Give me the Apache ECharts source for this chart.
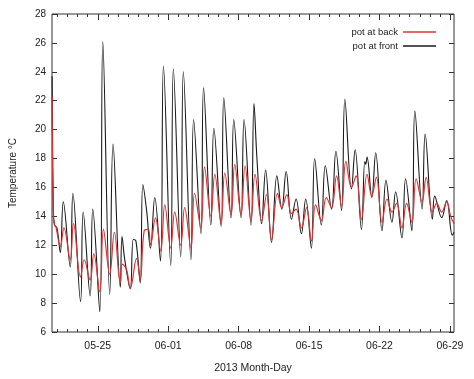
<!DOCTYPE html>
<html>
<head>
<meta charset="utf-8">
<script src="https://cdn.jsdelivr.net/npm/echarts@6/dist/echarts.min.js"></script>
<style>
html,body{margin:0;padding:0;background:#fff;}
#chart{width:474px;height:379px;}
</style>
</head>
<body>
<div id="chart"></div>
<script>
const YEAR = '2013';
const xTickLabels = ['05-25', '06-01', '06-08', '06-15', '06-22', '06-29'];
const xRange = ['05-20 10:50', '06-29 09:40'];
const firstDay = '05-21';
const lastDay = '06-29';

const frontTimes = ['05-20 11:00','05-20 14:00','05-20 17:00','05-20 22:40','05-21 06:40','05-21 13:45','05-22 06:20','05-22 12:40','05-23 07:00','05-23 13:10','05-24 05:50','05-24 12:00','05-25 04:45','05-25 12:00','05-26 04:30','05-26 12:25','05-27 05:45','05-27 09:45','05-27 16:50','05-28 05:30','05-28 12:40','05-28 19:00','05-29 05:15','05-29 11:30','05-29 20:10','05-30 05:45','05-30 16:00','05-31 05:30','05-31 12:40','06-01 06:00','06-01 12:20','06-02 05:45','06-02 12:05','06-03 06:15','06-03 12:35','06-04 06:00','06-04 12:20','06-05 05:45','06-05 12:55','06-06 06:15','06-06 12:35','06-07 06:00','06-07 12:20','06-08 05:45','06-08 12:55','06-09 05:30','06-09 12:35','06-09 19:40','06-10 06:50','06-10 16:20','06-11 06:30','06-11 19:10','06-12 07:00','06-12 17:20','06-13 06:00','06-13 17:00','06-14 05:40','06-14 16:00','06-15 05:30','06-15 13:20','06-16 05:15','06-16 14:40','06-17 05:40','06-17 16:00','06-18 05:30','06-18 13:20','06-19 05:10','06-19 13:50','06-20 04:55','06-20 12:50','06-20 15:10','06-20 18:20','06-21 05:30','06-21 15:00','06-22 06:00','06-22 15:25','06-23 05:40','06-23 14:25','06-24 05:30','06-24 14:10','06-25 05:10','06-25 12:15','06-26 05:40','06-26 12:50','06-27 06:10','06-27 11:40','06-28 04:20','06-28 16:10','06-29 05:40','06-29 09:40'];
const frontValues = [23.7,14.5,13.4,13.2,11.5,15.0,10.5,15.6,8.1,14.3,8.5,14.5,7.4,26.1,8.6,19.0,9.1,12.6,10.9,9.0,12.4,12.3,9.4,16.2,14.5,11.8,15.3,10.9,24.4,10.6,24.2,11.2,24.0,11.0,20.7,12.8,22.9,13.4,20.1,13.3,22.2,13.9,20.7,13.9,20.7,13.4,21.8,18.0,13.5,17.2,12.2,16.8,14.5,17.1,13.8,15.2,12.8,15.2,11.8,18.0,13.4,17.5,14.5,18.5,14.4,22.1,15.9,18.6,13.1,17.8,17.6,18.1,15.3,18.4,13.0,16.5,13.6,15.7,12.5,16.6,13.0,21.3,14.5,19.7,13.8,15.4,13.9,15.1,12.7,12.9];

const backTimes = ['05-20 11:00','05-20 14:00','05-20 17:00','05-20 20:00','05-21 06:40','05-21 15:20','05-22 06:20','05-22 14:10','05-23 07:00','05-23 15:35','05-24 05:50','05-24 14:30','05-25 04:45','05-25 13:30','05-26 04:30','05-26 15:35','05-27 05:45','05-27 10:30','05-27 20:50','05-28 05:30','05-28 20:35','05-29 05:15','05-29 14:40','05-30 00:15','05-30 05:45','05-30 17:35','05-31 06:20','05-31 15:50','06-01 06:00','06-01 15:30','06-02 05:45','06-02 15:15','06-03 06:15','06-03 14:55','06-04 06:00','06-04 14:40','06-05 05:45','06-05 15:10','06-06 06:15','06-06 14:55','06-07 06:00','06-07 14:40','06-08 05:45','06-08 15:15','06-09 05:30','06-09 15:00','06-10 06:50','06-10 18:40','06-11 06:30','06-11 20:40','06-12 07:00','06-12 18:55','06-13 06:00','06-13 17:00','06-14 05:40','06-14 18:10','06-15 05:30','06-15 15:40','06-16 05:15','06-16 17:05','06-17 05:40','06-17 17:35','06-18 05:30','06-18 15:45','06-19 05:10','06-19 16:10','06-20 04:55','06-20 18:20','06-21 05:30','06-21 16:35','06-22 06:00','06-22 17:50','06-23 05:40','06-23 16:45','06-24 05:30','06-24 16:35','06-25 05:10','06-25 15:25','06-26 05:40','06-26 15:10','06-27 06:10','06-27 16:25','06-28 04:20','06-28 16:10','06-29 01:45','06-29 09:40'];
const backValues = [22.3,14.0,13.4,13.3,11.9,13.2,11.0,13.5,9.8,11.0,9.6,11.4,8.8,13.1,10.0,12.9,9.4,10.7,10.3,9.0,11.1,9.6,13.0,13.1,12.0,13.9,11.6,14.8,11.8,14.3,12.0,14.6,11.8,15.6,13.2,17.4,14.0,16.9,13.5,17.0,14.1,17.6,14.1,17.5,13.7,16.9,13.7,15.5,12.4,15.6,14.6,15.5,14.2,14.5,13.2,14.6,12.3,14.8,13.7,15.3,14.6,16.8,14.7,17.8,16.0,16.8,13.8,16.9,15.4,16.7,13.6,15.2,14.3,14.9,13.2,14.9,13.6,16.6,15.0,16.7,14.3,14.9,14.3,15.0,14.0,13.5];

function ts(s) { return echarts.time.parse(YEAR + '-' + s).getTime(); }
function pairs(times, values) { return times.map((t, i) => [ts(t), values[i]]); }

const majorTicks = xTickLabels.map(l => ts(l + ' 00:00'));
const minorTicks = [];
for (let t = ts(firstDay + ' 00:00'); t <= ts(lastDay + ' 00:00'); t += 86400000) minorTicks.push(t);

const FONT = 'Liberation Sans, Arial, sans-serif';
const AXC = '#333';
const TXT = '#222';
const RED = '#dd3333';
const BLACK = '#1a1a1a';

const chart = echarts.init(document.getElementById('chart'), null, {renderer: 'canvas'});

function xAx(pos, ticks, len, showLabel, showName) {
  return {
    type: 'value', gridIndex: 0, position: pos,
    min: ts(xRange[0]), max: ts(xRange[1]),
    axisLine: {show: false},
    splitLine: {show: false},
    axisTick: {show: true, inside: true, length: len, customValues: ticks, lineStyle: {color: AXC, width: 1}},
    axisLabel: showLabel ? {
      show: true, customValues: majorTicks, margin: 9, color: TXT, fontSize: 10.5, fontFamily: FONT,
      formatter: v => xTickLabels[majorTicks.indexOf(v)] || ''
    } : {show: false},
    name: showName ? '2013 Month-Day' : '',
    nameLocation: 'middle', nameGap: 31,
    nameTextStyle: {color: TXT, fontSize: 10.5, fontFamily: FONT}
  };
}

function yAx(pos, showLabel) {
  return {
    type: 'value', gridIndex: 0, position: pos,
    min: 6, max: 28, interval: 2,
    axisLine: {show: false},
    splitLine: {show: false},
    axisTick: {show: true, inside: true, length: 5, lineStyle: {color: AXC, width: 1}},
    axisLabel: showLabel ? {show: true, margin: 6, color: TXT, fontSize: 10, fontFamily: FONT} : {show: false},
    name: showLabel ? 'Temperature °C' : '',
    nameLocation: 'middle', nameGap: 34, nameRotate: 90,
    nameTextStyle: {color: TXT, fontSize: 10, fontFamily: FONT}
  };
}

chart.setOption({
  animation: false,
  backgroundColor: '#fff',
  grid: {left: 50, right: 20, top: 14, bottom: 46, show: true, borderColor: AXC, borderWidth: 1, backgroundColor: 'transparent'},
  legend: {
    data: [
      {name: 'pot at back', icon: 'rect', itemStyle: {color: RED}},
      {name: 'pot at front', icon: 'rect', itemStyle: {color: BLACK}}
    ],
    orient: 'vertical', right: 33, top: 21,
    align: 'right',
    itemWidth: 33, itemHeight: 1.3, itemGap: 2,
    textStyle: {color: TXT, fontSize: 9.5, fontFamily: FONT, lineHeight: 12}
  },
  xAxis: [
    xAx('bottom', majorTicks, 6, true, true),
    xAx('bottom', minorTicks, 3, false, false),
    xAx('top', majorTicks, 6, false, false),
    xAx('top', minorTicks, 3, false, false)
  ],
  yAxis: [yAx('left', true), yAx('right', false)],
  series: [
    {
      name: 'pot at back', type: 'line', xAxisIndex: 0, yAxisIndex: 0,
      data: pairs(backTimes, backValues),
      symbol: 'none', smooth: 0.4, z: 4,
      lineStyle: {color: RED, width: 1.2}, itemStyle: {color: RED}
    },
    {
      name: 'pot at front', type: 'line', xAxisIndex: 0, yAxisIndex: 0,
      data: pairs(frontTimes, frontValues),
      symbol: 'none', smooth: 0.4, z: 3,
      lineStyle: {color: BLACK, width: 1.1}, itemStyle: {color: BLACK}
    }
  ]
});
</script>
</body>
</html>
